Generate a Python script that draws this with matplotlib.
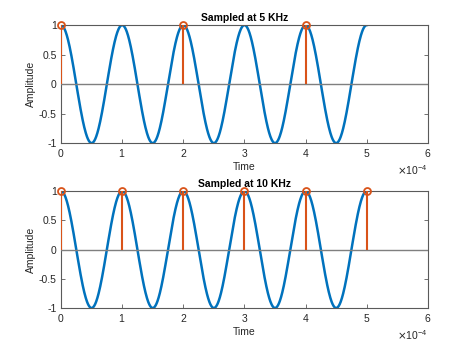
import numpy as np
from matplotlib import pyplot as plt

# signal: 10 kHz cosine shown over 0 .. 5e-4 s
signal_freq = 10e3
duration = 5e-4

titles = ['Sampled at 5 KHz', 'Sampled at 10 KHz']
sample_times = [
    [0.0, 2e-4, 4e-4],
    [0.0, 1e-4, 2e-4, 3e-4, 4e-4, 5e-4],
]
sample_values = [
    [1.0, 1.0, 1.0],
    [1.0, 1.0, 1.0, 1.0, 1.0, 1.0],
]
x_ticks = [0, 1e-4, 2e-4, 3e-4, 4e-4, 5e-4, 6e-4]
y_ticks = [-1, -0.5, 0, 0.5, 1]

blue = '#0072BD'
orange = '#D95319'
gray = '#262626'
edge = '#5a5a5a'

plt.rcParams['font.family'] = ['Liberation Sans', 'DejaVu Sans']
plt.rcParams['font.size'] = 7.5

t = np.linspace(0, duration, 1000)
signal = np.cos(2 * np.pi * signal_freq * t)

fig = plt.figure(figsize=(4.74, 3.49), dpi=100)
positions = [[0.1287, 0.590, 0.774, 0.338], [0.1287, 0.1175, 0.774, 0.335]]

for pos, title, st, sv in zip(positions, titles, sample_times, sample_values):
    ax = fig.add_axes(pos)
    ax.plot(t, signal, color=blue, linewidth=1.8, zorder=2)
    ax.axhline(0, color='#7f7f7f', linewidth=1.0, zorder=3)
    ax.vlines(st, 0, sv, color=orange, linewidth=1.5, zorder=4)
    ax.plot(st, sv, 'o', markerfacecolor='none', markeredgecolor=orange,
            markersize=5, markeredgewidth=1.3, zorder=5, clip_on=False)
    ax.set_xlim(0, 6e-4)
    ax.set_ylim(-1, 1)
    ax.set_xticks(x_ticks)
    ax.set_yticks(y_ticks)
    ax.set_yticklabels(['-1', '-0.5', '0', '0.5', '1'])
    ax.ticklabel_format(axis='x', style='sci', scilimits=(0, 0), useMathText=True)
    ax.tick_params(direction='in', length=3, width=0.6, colors=edge,
                   labelcolor=gray, top=False, right=True, pad=3)
    for s in ax.spines.values():
        s.set_color(edge)
        s.set_linewidth(0.8)
    ax.set_title(title, fontweight='bold', color='black', fontsize=7.5, pad=3)
    ax.set_xlabel('Time', color=gray, labelpad=2)
    ax.set_ylabel('Amplitude', color=gray, labelpad=2)
    ax.xaxis.get_offset_text().set_color(gray)

plt.savefig('out.png', dpi=100)
